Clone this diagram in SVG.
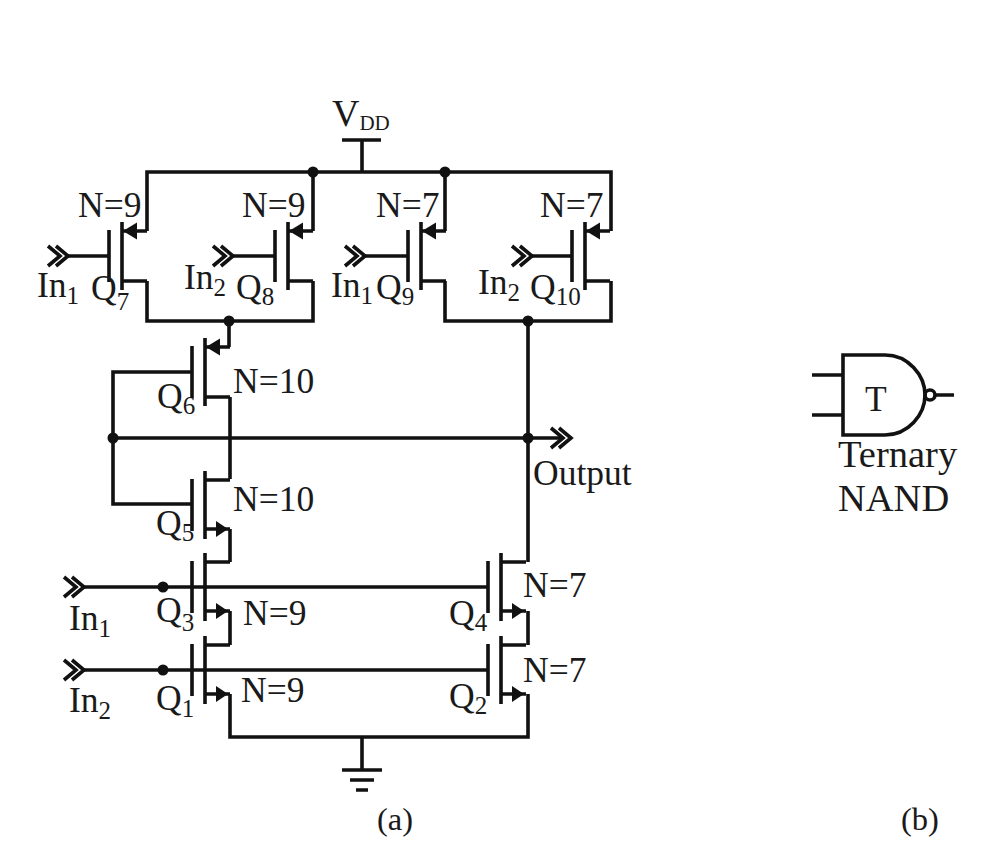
<svg xmlns="http://www.w3.org/2000/svg" xmlns:xlink="http://www.w3.org/1999/xlink" width="990" height="859" viewBox="0 0 990 859">
<style>
text{font-family:"Liberation Serif","Times New Roman",serif;font-size:35.5px;fill:#1a1a1a}
.sub{font-size:25px}
.w{fill:none;stroke:#111;stroke-width:3.6;stroke-linejoin:miter}
.d{fill:#111}
</style>
<defs>
<g id="pmos"><path class="w" d="M0-9V59M-13-1V51M0 0H25M0 50H25"/><path class="d" d="M1 0L15-8.500V8.500Z"/></g>
<g id="nmos"><path class="w" d="M0-9V59M-13-1V51M0 0H25M0 49H25"/><path class="d" d="M23 49L11 41V57Z"/></g>
<path id="chev" class="w" d="M0-10L12 0L0 10M-8-10L4 0L-8 10"/>
<circle id="dot" class="d" r="5.500"/>
</defs>
<rect width="990" height="859" fill="#fff"/>
<g id="connectors">
<path class="w" d="M147 231V172H611V231M313 172V231M445 172V231M362 172V140M342 140H381"/>
<path class="w" d="M147 281V321H313V281M445 281V321H611V281M229 321V347"/>
<path class="w" d="M230 397V479M230 529V562M230 611V645M230 694V737H528V694M528 611V645M528 321V562"/>
<path class="w" d="M192 372H113V504H192M113 438H561"/>
<path class="w" d="M66 256H109M232 256H274M363 256H408M530 256H572"/>
<path class="w" d="M84 587H488M84 670H488"/>
<path class="w" d="M362 737V770M342 770H382M350 780H374M356 790H368"/>
<use href="#dot" x="313" y="172"/><use href="#dot" x="445" y="172"/><use href="#dot" x="229" y="321"/><use href="#dot" x="528" y="321"/>
<use href="#dot" x="113" y="438"/><use href="#dot" x="528" y="438"/><use href="#dot" x="163" y="587"/><use href="#dot" x="163" y="670"/>
<use href="#chev" x="56" y="256"/><use href="#chev" x="221" y="256"/><use href="#chev" x="353" y="256"/><use href="#chev" x="520" y="256"/>
<use href="#chev" x="559" y="438"/><use href="#chev" x="72" y="587"/><use href="#chev" x="72" y="670"/>
</g>
<g id="vdd"><text x="332" y="126" style="font-size:38px">V<tspan dy="4" style="font-size:21px">DD</tspan></text></g>
<g id="label-a"><text x="377" y="830" style="font-size:32.500px">(a)</text></g>
<g id="Q7"><use href="#pmos" x="122" y="231"/><text x="78" y="217">N=9</text><text x="37" y="297">In<tspan class="sub" dy="7">1</tspan></text><text x="91" y="300">Q<tspan class="sub" dy="10">7</tspan></text></g>
<g id="Q8"><use href="#pmos" x="288" y="231"/><text x="242" y="217">N=9</text><text x="184" y="289">In<tspan class="sub" dy="7">2</tspan></text><text x="236" y="299">Q<tspan class="sub" dy="6">8</tspan></text></g>
<g id="Q9"><use href="#pmos" x="421" y="231"/><text x="376" y="217">N=7</text><text x="331" y="297">In<tspan class="sub" dy="7">1</tspan></text><text x="376" y="299">Q<tspan class="sub" dy="6">9</tspan></text></g>
<g id="Q10"><use href="#pmos" x="585" y="231"/><text x="540" y="217">N=7</text><text x="478" y="294">In<tspan class="sub" dy="7">2</tspan></text><text x="530" y="299">Q<tspan class="sub" dy="6">10</tspan></text></g>
<g id="Q6"><use href="#pmos" x="205" y="347"/><text x="233" y="393">N=10</text><text x="157" y="408">Q<tspan class="sub" dy="6">6</tspan></text></g>
<g id="Q5"><use href="#nmos" x="205" y="480"/><text x="233" y="511">N=10</text><text x="156" y="535">Q<tspan class="sub" dy="6">5</tspan></text></g>
<g id="Q3"><use href="#nmos" x="205" y="562"/><text x="243" y="625">N=9</text><text x="156" y="622">Q<tspan class="sub" dy="9">3</tspan></text><text x="69" y="630">In<tspan class="sub" dy="7">1</tspan></text></g>
<g id="Q1"><use href="#nmos" x="205" y="645"/><text x="241" y="702">N=9</text><text x="156" y="710">Q<tspan class="sub" dy="7">1</tspan></text><text x="69" y="712">In<tspan class="sub" dy="7">2</tspan></text></g>
<g id="Q4"><use href="#nmos" x="501" y="562"/><text x="523" y="597">N=7</text><text x="449" y="625">Q<tspan class="sub" dy="6">4</tspan></text></g>
<g id="Q2"><use href="#nmos" x="501" y="645"/><text x="523" y="682">N=7</text><text x="449" y="708">Q<tspan class="sub" dy="6">2</tspan></text></g>
<g id="output"><text x="533" y="485">Output</text></g>
<g id="nand">
<path class="w" d="M812 375H842M812 415H842M843 355V435H885C908 435 925 415 925 395C925 375 908 355 885 355H843ZM935 395H954"/>
<circle class="w" cx="930" cy="395" r="5"/>
<text x="865" y="411">T</text>
<text x="838" y="467" style="font-size:38.500px">Ternary</text>
<text x="838" y="511" style="font-size:38.500px">NAND</text>
<text x="901" y="830" style="font-size:32.500px">(b)</text>
</g>
</svg>
